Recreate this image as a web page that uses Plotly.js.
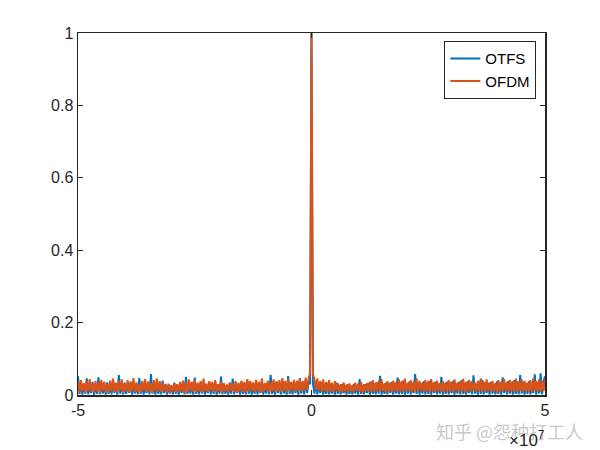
<!DOCTYPE html>
<html>
<head>
<meta charset="utf-8">
<script src="https://cdn.plot.ly/plotly-3.0.1.min.js"></script>
<style>html,body{margin:0;padding:0;background:#fff;}#chart{width:600px;height:450px;}</style>
</head>
<body>
<div id="chart"></div>
<script>
// Sample grid: 321 delay/doppler samples from -5e7 to 5e7
const xStart = -5e7;
const xEnd = 5e7;
const sampleCount = 321;

const seriesNames = ['OTFS', 'OFDM'];
const xTickVals = [-5e7, 0, 5e7];
const xTickText = ['-5', '0', '5'];
const yTickVals = [0, 0.2, 0.4, 0.6, 0.8, 1];
const yTickText = ['0', '0.2', '0.4', '0.6', '0.8', '1'];

const otfsLeft = [
0.052,0.003,0.034,0.001,0.030,0.004,0.046,0.002,0.028,0.005,0.036,0.000,0.031,0.003,0.049,0.002,0.033,0.004,0.027,0.001,
0.035,0.003,0.029,0.002,0.038,0.005,0.032,0.001,0.055,0.004,0.030,0.002,0.034,0.003,0.028,0.006,0.037,0.001,0.031,0.004,
0.029,0.002,0.047,0.003,0.033,0.001,0.030,0.005,0.036,0.002,0.058,0.004,0.032,0.001,0.035,0.003,0.029,0.002,0.040,0.005,
0.031,0.001,0.028,0.004,0.026,0.002,0.034,0.003,0.029,0.001,0.030,0.005,0.037,0.002,0.050,0.003,0.033,0.004,0.031,0.001,
0.048,0.003,0.030,0.002,0.035,0.004,0.032,0.001,0.029,0.005,0.036,0.002,0.031,0.003,0.034,0.001,0.027,0.004,0.051,0.002,
0.030,0.003,0.026,0.001,0.033,0.004,0.045,0.002,0.032,0.005,0.030,0.001,0.036,0.003,0.031,0.002,0.038,0.004,0.034,0.001,
0.029,0.003,0.037,0.002,0.032,0.005,0.035,0.001,0.030,0.004,0.034,0.002,0.056,0.003,0.031,0.001,0.036,0.005,0.033,0.002,
0.039,0.004,0.031,0.001,0.052,0.003,0.034,0.002,0.037,0.005,0.033,0.001,0.047,0.004,0.036,0.002,0.041,0.006,0.035,0.030
];
const otfsPeak = [1];
const otfsRight = [
0.032,0.004,0.038,0.002,0.030,0.005,0.035,0.001,0.029,0.003,0.033,0.002,0.031,0.004,0.028,0.001,0.034,0.003,0.027,0.002,
0.030,0.005,0.026,0.001,0.029,0.003,0.025,0.002,0.031,0.004,0.028,0.001,0.044,0.003,0.027,0.002,0.030,0.005,0.033,0.001,
0.036,0.003,0.031,0.002,0.035,0.004,0.053,0.001,0.029,0.003,0.034,0.002,0.032,0.005,0.036,0.001,0.033,0.004,0.048,0.002,
0.034,0.003,0.040,0.001,0.031,0.004,0.037,0.002,0.033,0.005,0.058,0.003,0.035,0.001,0.032,0.004,0.038,0.002,0.034,0.003,
0.040,0.001,0.033,0.005,0.036,0.002,0.030,0.004,0.050,0.001,0.032,0.003,0.037,0.002,0.034,0.005,0.039,0.001,0.031,0.004,
0.036,0.002,0.041,0.003,0.033,0.001,0.038,0.005,0.034,0.002,0.054,0.004,0.031,0.001,0.037,0.003,0.042,0.002,0.034,0.005,
0.032,0.001,0.036,0.004,0.030,0.002,0.038,0.003,0.034,0.001,0.049,0.005,0.033,0.002,0.039,0.004,0.035,0.001,0.041,0.003,
0.037,0.002,0.055,0.004,0.036,0.001,0.033,0.003,0.038,0.002,0.034,0.005,0.057,0.001,0.035,0.004,0.060,0.002,0.037,0.052
];

const ofdmLeft = [
0.036,0.008,0.041,0.011,0.033,0.006,0.038,0.012,0.044,0.009,0.031,0.007,0.039,0.010,0.035,0.005,0.042,0.013,0.037,0.008,
0.029,0.006,0.040,0.011,0.045,0.009,0.034,0.007,0.038,0.012,0.043,0.006,0.032,0.010,0.041,0.008,0.036,0.011,0.047,0.007,
0.035,0.009,0.030,0.006,0.039,0.012,0.044,0.008,0.037,0.010,0.033,0.005,0.041,0.011,0.046,0.009,0.038,0.007,0.034,0.012,
0.028,0.008,0.031,0.006,0.027,0.010,0.033,0.007,0.030,0.009,0.036,0.011,0.040,0.006,0.035,0.008,0.043,0.012,0.037,0.009,
0.041,0.007,0.034,0.010,0.039,0.006,0.045,0.011,0.032,0.008,0.038,0.013,0.036,0.007,0.042,0.009,0.030,0.011,0.037,0.006,
0.033,0.010,0.029,0.007,0.035,0.012,0.031,0.008,0.038,0.006,0.034,0.011,0.040,0.009,0.036,0.007,0.044,0.010,0.039,0.012,
0.035,0.008,0.042,0.011,0.037,0.006,0.046,0.009,0.033,0.012,0.040,0.007,0.036,0.010,0.043,0.008,0.038,0.011,0.041,0.009,
0.047,0.012,0.039,0.008,0.044,0.010,0.036,0.013,0.042,0.009,0.040,0.011,0.045,0.010,0.038,0.012,0.048,0.014,0.046,0.060
];
const ofdmPeak = [1];
const ofdmRight = [
0.058,0.044,0.015,0.046,0.012,0.039,0.009,0.043,0.011,0.036,0.008,0.041,0.010,0.034,0.007,0.038,0.012,0.033,0.009,0.030,
0.006,0.035,0.011,0.029,0.008,0.032,0.010,0.028,0.007,0.034,0.012,0.031,0.009,0.036,0.006,0.030,0.011,0.033,0.008,0.037,
0.010,0.041,0.007,0.035,0.012,0.039,0.009,0.044,0.011,0.032,0.006,0.038,0.010,0.035,0.008,0.040,0.012,0.036,0.007,0.043,
0.009,0.038,0.011,0.045,0.008,0.034,0.012,0.041,0.007,0.037,0.010,0.046,0.009,0.039,0.013,0.035,0.008,0.042,0.011,0.038,
0.006,0.044,0.010,0.036,0.008,0.040,0.012,0.033,0.009,0.038,0.007,0.035,0.011,0.041,0.010,0.037,0.006,0.043,0.012,0.034,
0.008,0.039,0.011,0.045,0.007,0.036,0.010,0.042,0.009,0.038,0.013,0.034,0.008,0.040,0.011,0.046,0.007,0.037,0.010,0.043,
0.012,0.035,0.008,0.039,0.011,0.033,0.006,0.041,0.010,0.037,0.009,0.044,0.012,0.036,0.008,0.042,0.011,0.038,0.007,0.045,
0.010,0.037,0.012,0.043,0.008,0.039,0.011,0.034,0.009,0.041,0.007,0.046,0.012,0.038,0.010,0.044,0.008,0.040,0.011,0.042
];

const otfsValues = otfsLeft.concat(otfsPeak, otfsRight);
const ofdmValues = ofdmLeft.concat(ofdmPeak, ofdmRight);
const xValues = [];
for (let i = 0; i < sampleCount; i++) {
  xValues.push(xStart + (xEnd - xStart) * i / (sampleCount - 1));
}

const fontFamily = 'Liberation Sans, Arial, sans-serif';
const font = {family: fontFamily, size: 16, color: '#262626'};

const traces = [
  {x: xValues, y: otfsValues, type: 'scatter', mode: 'lines', name: seriesNames[0],
   line: {color: '#0072BD', width: 2}},
  {x: xValues, y: ofdmValues, type: 'scatter', mode: 'lines', name: seriesNames[1],
   line: {color: '#D95319', width: 2}}
];

const axisCommon = {
  showgrid: false, zeroline: false, showline: true, mirror: 'ticks',
  linecolor: '#262626', linewidth: 1.5, ticks: 'inside', ticklen: 5,
  tickcolor: '#262626', tickwidth: 1.2, tickfont: font
};

const layout = {
  width: 600, height: 450,
  margin: {l: 78, r: 55, t: 33, b: 55},
  paper_bgcolor: '#ffffff', plot_bgcolor: '#ffffff',
  font: font,
  showlegend: true,
  legend: {x: 0.981, y: 0.978, xanchor: 'right', yanchor: 'top',
           bgcolor: '#ffffff', bordercolor: '#262626', borderwidth: 1.2,
           font: {family: fontFamily, size: 15, color: '#000'},
           tracegroupgap: 0},
  xaxis: Object.assign({}, axisCommon, {range: [xStart, xEnd], tickmode: 'array',
           tickvals: xTickVals, ticktext: xTickText}),
  yaxis: Object.assign({}, axisCommon, {range: [0, 1], tickmode: 'array',
           tickvals: yTickVals, ticktext: yTickText}),
  annotations: [
    {text: '知乎 @怨种打工人', xref: 'paper', yref: 'paper', x: 0.925, y: -0.100,
     xanchor: 'center', yanchor: 'middle', showarrow: false,
     font: {family: 'Noto Sans CJK SC', size: 18, color: 'rgba(175,175,175,0.7)'}},
    {text: '×10<sup>7</sup>', xref: 'paper', yref: 'paper', x: 1.005, y: -0.085,
     xanchor: 'right', yanchor: 'top', showarrow: false,
     font: {family: fontFamily, size: 17, color: '#262626'}}
  ]
};

Plotly.newPlot('chart', traces, layout, {displayModeBar: false, staticPlot: true});
</script>
</body>
</html>
